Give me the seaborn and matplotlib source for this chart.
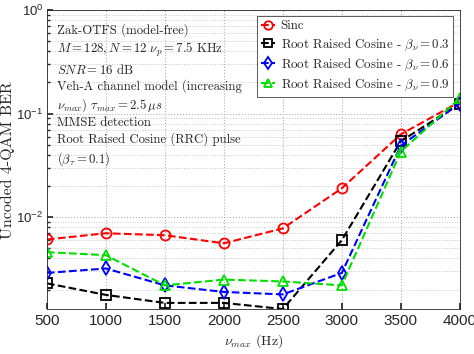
import numpy as np
import pandas as pd
import matplotlib
matplotlib.use("Agg")
import matplotlib.pyplot as plt
import seaborn as sns
from matplotlib.font_manager import FontProperties
from matplotlib.ticker import LogLocator, NullFormatter

nu_max = [500, 1000, 1500, 2000, 2500, 3000, 3500, 4000]
ber_sinc = [6.1e-3, 7.0e-3, 6.7e-3, 5.6e-3, 7.8e-3, 1.9e-2, 6.3e-2, 0.13]
ber_rrc03 = [2.3e-3, 1.78e-3, 1.49e-3, 1.49e-3, 1.3e-3, 6.0e-3, 5.4e-2, 0.125]
ber_rrc06 = [2.9e-3, 3.2e-3, 2.2e-3, 1.9e-3, 1.8e-3, 2.9e-3, 4.9e-2, 0.125]
ber_rrc09 = [4.6e-3, 4.3e-3, 2.2e-3, 2.5e-3, 2.4e-3, 2.2e-3, 4.3e-2, 0.14]

labels = [
    "Sinc",
    r"Root Raised Cosine - $\beta_\nu = 0.3$",
    r"Root Raised Cosine - $\beta_\nu = 0.6$",
    r"Root Raised Cosine - $\beta_\nu = 0.9$",
]
colors = ["#ff0000", "#000000", "#0000ff", "#00e000"]
markers = ["o", "s", "d", "^"]

info_lines = [
    "Zak-OTFS (model-free)",
    r"$M = 128, N = 12\ \nu_p = 7.5$ KHz",
    r"$SNR = 16$ dB",
    "Veh-A channel model (increasing",
    r"$\nu_{max}$) $\tau_{max} = 2.5\,\mu s$",
    "MMSE detection",
    "Root Raised Cosine (RRC) pulse",
    r"($\beta_\tau = 0.1$)",
]

sns.set_theme(style="ticks")
plt.rcParams["font.family"] = ["Liberation Sans", "DejaVu Sans"]
plt.rcParams["mathtext.fontset"] = "dejavusans"

cm_font = FontProperties(family="cmr10", size=9.2, math_fontfamily="cm")
leg_font = FontProperties(family="cmr10", size=9.3, math_fontfamily="cm")
lab_font = FontProperties(family="cmr10", size=11.5, math_fontfamily="cm")
xlab_font = FontProperties(family="cmr10", size=10, math_fontfamily="cm")

fig = plt.figure(figsize=(4.74, 3.54), dpi=100)
ax = fig.add_axes([0.099, 0.127, 0.871, 0.845])

series = [ber_sinc, ber_rrc03, ber_rrc06, ber_rrc09]
for ys, lab, c, m in zip(series, labels, colors, markers):
    sns.lineplot(
        x=nu_max,
        y=ys,
        ax=ax,
        color=c,
        marker=m,
        linestyle="--",
        linewidth=1.5,
        markersize=7.2,
        markerfacecolor="none",
        markeredgecolor=c,
        markeredgewidth=1.3,
        label=lab,
    )

ax.set_yscale("log")
ax.set_ylim(1.3e-3, 1)
ax.set_xlim(500, 4000)
ax.set_xticks(nu_max)
ax.yaxis.set_major_locator(LogLocator(base=10, numticks=10))
ax.yaxis.set_minor_locator(LogLocator(base=10, subs=np.arange(2, 10), numticks=20))
ax.yaxis.set_minor_formatter(NullFormatter())

ax.grid(True, which="major", linestyle=":", color="#b0b0b0", linewidth=0.8)
ax.grid(True, which="minor", axis="y", linestyle=":", color="#c8c8c8", linewidth=0.7)
ax.tick_params(axis="both", which="both", direction="in", colors="#262626")
ax.tick_params(axis="x", which="major", labelsize=11, length=4)
ax.tick_params(axis="y", which="major", labelsize=9.5, length=4, pad=2.5)
ax.tick_params(axis="y", which="minor", length=2)
for s in ax.spines.values():
    s.set_color("#262626")
    s.set_linewidth(0.6)

ax.set_xlabel(r"$\nu_{max}$ (Hz)", fontproperties=xlab_font, math_fontfamily="cm", labelpad=3)
ax.set_ylabel("")
fig.text(0.017, 0.548, "Uncoded 4-QAM BER", rotation=90, ha="center", va="center",
         fontproperties=lab_font)

ax.text(
    0.025, 0.955, "\n".join(info_lines),
    transform=ax.transAxes, ha="left", va="top",
    fontproperties=cm_font, math_fontfamily="cm", linespacing=1.32,
)

leg = ax.legend(
    loc="upper right",
    prop=leg_font,
    frameon=True,
    fancybox=False,
    framealpha=1,
    edgecolor="#404040",
    handlelength=1.1,
    handletextpad=0.4,
    borderpad=0.3,
    labelspacing=0.3,
    borderaxespad=0.5,
    markerscale=0.85,
)
leg.get_frame().set_linewidth(0.6)

fig.savefig("out.png", dpi=100)
